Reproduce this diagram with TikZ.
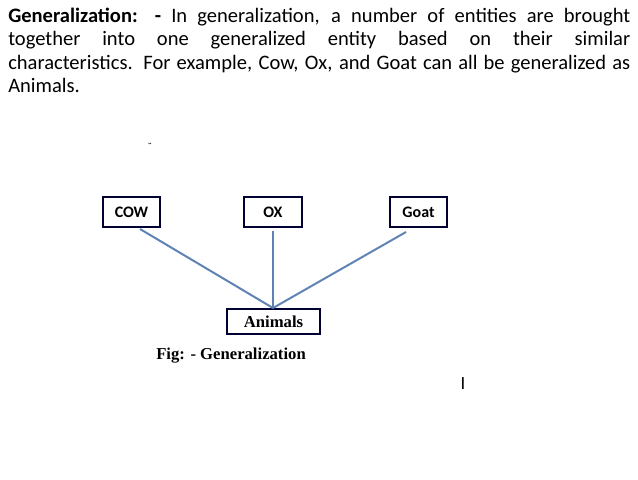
\documentclass[tikz,border=0pt]{standalone}
\usepackage{fontspec}
\setmainfont{Carlito}
\newfontfamily\tnr{Liberation Serif}
\begin{document}
\begin{tikzpicture}[x=0.75pt,y=-0.75pt,
  bx/.style={draw=black!80!blue,line width=1pt,minimum height=22.5pt,inner sep=0pt,font=\bfseries\fontsize{12}{14}\selectfont},
  ln/.style={color={rgb,255:red,95;green,130;blue,180},line width=1.5pt}]
\useasboundingbox (0,0) rectangle (638,479);
\node[anchor=north west,inner sep=0pt,text width=466.5pt,align=justify,font=\fontsize{15.4}{17.4}\selectfont] (para) at (8,8)
{\hyphenpenalty=10000\textbf{Generalization: -} In generalization, a number of entities are brought\linebreak together into one generalized entity based on their similar\linebreak characteristics. For example, Cow, Ox, and Goat can all be generalized as\linebreak Animals.};
\node[bx,minimum width=42.75pt] (cow) at (131.5,212) {COW};
\node[bx,minimum width=43.5pt] (ox) at (273,212) {OX};
\node[bx,minimum width=42.75pt] (goat) at (418.5,212) {Goat};
\node[bx,minimum width=69.75pt,minimum height=18.75pt,font=\tnr\bfseries\fontsize{12.5}{14}\selectfont] (ani) at (273.5,321.5) {Animals};
\coordinate (c1) at (140,229);
\coordinate (c2) at (273,231);
\coordinate (c3) at (406,232);
\coordinate (m) at (273,308);
\draw[ln] (c1) -- (m);
\draw[ln] (c2) -- (m);
\draw[ln] (c3) -- (m);
\node[font=\tnr\bfseries\fontsize{12.5}{14}\selectfont] (cap) at (231,356) {Fig: - Generalization};
\node[font=\fontsize{14}{16}\selectfont,inner sep=0pt] (bar) at (463,384) {I};
\node[font=\fontsize{8}{9}\selectfont,inner sep=0pt] (br) at (150,147) {˘};
\end{tikzpicture}
\end{document}
